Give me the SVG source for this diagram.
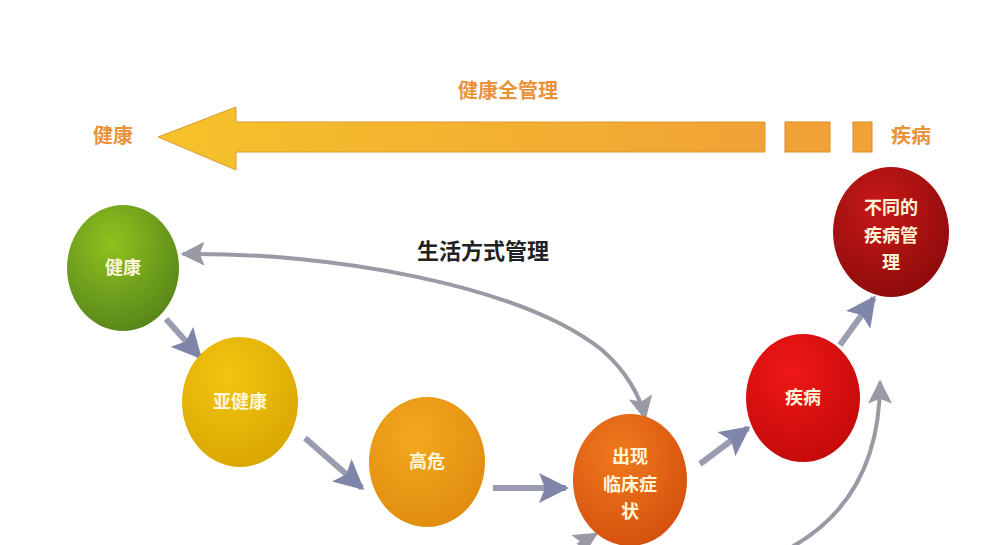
<svg xmlns="http://www.w3.org/2000/svg" width="998" height="545" viewBox="0 0 998 545">
<defs>
<linearGradient id="gBar" x1="0" y1="0" x2="1" y2="0">
<stop offset="0" stop-color="#f6c22a"/><stop offset="1" stop-color="#f0a236"/>
</linearGradient>
<radialGradient id="gGreen" cx="0.4" cy="0.3" r="0.8"><stop offset="0" stop-color="#8fc21e"/><stop offset="1" stop-color="#52801a"/></radialGradient>
<radialGradient id="gYellow" cx="0.4" cy="0.3" r="0.8"><stop offset="0" stop-color="#f3c510"/><stop offset="1" stop-color="#d7a400"/></radialGradient>
<radialGradient id="gOrange" cx="0.4" cy="0.3" r="0.8"><stop offset="0" stop-color="#f4a81e"/><stop offset="1" stop-color="#df8a0e"/></radialGradient>
<radialGradient id="gOrRed" cx="0.4" cy="0.3" r="0.8"><stop offset="0" stop-color="#f07a1e"/><stop offset="1" stop-color="#d24d0c"/></radialGradient>
<radialGradient id="gRed" cx="0.4" cy="0.3" r="0.8"><stop offset="0" stop-color="#f01818"/><stop offset="1" stop-color="#c00808"/></radialGradient>
<radialGradient id="gDark" cx="0.4" cy="0.3" r="0.8"><stop offset="0" stop-color="#c81818"/><stop offset="1" stop-color="#880a0a"/></radialGradient>
<marker id="ah" viewBox="0 0 10 10" refX="9" refY="5" markerWidth="5" markerHeight="5" orient="auto-start-reverse" markerUnits="strokeWidth">
<path d="M0,0 L10,5 L0,10 L2,5 Z" fill="#7f86aa"/>
</marker>
<marker id="ag" viewBox="0 0 10 10" refX="9" refY="5" markerWidth="6" markerHeight="6" orient="auto-start-reverse" markerUnits="strokeWidth">
<path d="M0,0 L10,5 L0,10 L2,5 Z" fill="#9a9aa4"/>
</marker>
<style>
.lbl{font-family:"Noto Sans CJK SC","Noto Sans",sans-serif;font-weight:bold;text-anchor:middle;}
.orange{fill:#e8923a;font-size:20px;}
.node{fill:#fff6d8;font-size:18px;}
.short{stroke:#9a9db0;stroke-width:6;fill:none;marker-end:url(#ah);}
.long{stroke:#9a9aa4;stroke-width:4;fill:none;}
</style>
</defs>
<rect width="998" height="545" fill="#ffffff"/>

<g id="header">
<text class="lbl orange" x="508" y="98" font-size="22">健康全管理</text>
<text class="lbl orange" x="113" y="143">健康</text>
<text class="lbl orange" x="911" y="143">疾病</text>
<path d="M158,137 L236,107 L236,122 L765,122 L765,152 L236,152 L236,170 Z" fill="url(#gBar)" stroke="#d89a30" stroke-width="1"/>
<rect x="785" y="122" width="45" height="30" fill="#f0a236" stroke="#d88a2a" stroke-width="1"/>
<rect x="853" y="122" width="19" height="30" fill="#f0a236" stroke="#d88a2a" stroke-width="1"/>
</g>

<g id="connectors">
<path class="long" d="M183,254 C330,252 520,285 602,350 C625,370 640,395 645,418" marker-start="url(#ag)" marker-end="url(#ag)"/>
<path class="long" d="M790,548 C850,515 880,460 880,382" marker-end="url(#ag)"/>
<path class="long" d="M578,545 L596,534" marker-end="url(#ag)"/>
<line class="short" x1="166" y1="319" x2="200" y2="357"/>
<line class="short" x1="305" y1="438" x2="362" y2="488"/>
<line class="short" x1="493" y1="488" x2="566" y2="488"/>
<line class="short" x1="700" y1="464" x2="748" y2="428"/>
<line class="short" x1="840" y1="345" x2="874" y2="298"/>
</g>
<text class="lbl" x="483" y="259" font-size="22" fill="#222">生活方式管理</text>

<g id="n-health">
<ellipse cx="123" cy="268" rx="56" ry="63" fill="url(#gGreen)"/>
<text class="lbl node" x="123" y="274">健康</text>
</g>
<g id="n-subhealth">
<ellipse cx="240" cy="402" rx="58" ry="65" fill="url(#gYellow)"/>
<text class="lbl node" x="240" y="408">亚健康</text>
</g>
<g id="n-highrisk">
<ellipse cx="427" cy="462" rx="58" ry="65" fill="url(#gOrange)"/>
<text class="lbl node" x="427" y="468">高危</text>
</g>
<g id="n-symptom">
<ellipse cx="630" cy="480" rx="57" ry="66" fill="url(#gOrRed)"/>
<text class="lbl node" x="630" y="463">出现</text>
<text class="lbl node" x="630" y="491">临床症</text>
<text class="lbl node" x="630" y="518">状</text>
</g>
<g id="n-disease">
<ellipse cx="803" cy="398" rx="57" ry="64" fill="url(#gRed)"/>
<text class="lbl node" x="803" y="404">疾病</text>
</g>
<g id="n-mgmt">
<ellipse cx="891" cy="232" rx="58" ry="65" fill="url(#gDark)"/>
<text class="lbl node" x="891" y="214">不同的</text>
<text class="lbl node" x="891" y="242">疾病管</text>
<text class="lbl node" x="891" y="269">理</text>
</g>
</svg>
